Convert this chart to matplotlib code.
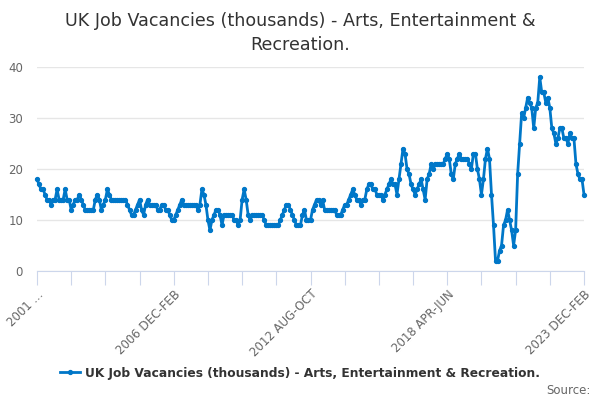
import matplotlib
matplotlib.use("Agg")
import numpy as np
import matplotlib.pyplot as plt

# rolling quarterly values, 2001 APR-JUN .. 2023 DEC-FEB (thousands)
vacancies = [
    18, 17, 16, 16, 15, 14, 14, 13, 14, 14,
    16, 14, 14, 14, 16, 14, 14, 12, 13, 14,
    14, 15, 14, 13, 12, 12, 12, 12, 12, 14,
    15, 14, 12, 13, 14, 16, 15, 14, 14, 14,
    14, 14, 14, 14, 14, 13, 12, 11, 11, 12,
    13, 14, 12, 11, 13, 14, 13, 13, 13, 13,
    12, 12, 13, 13, 12, 12, 11, 10, 10, 11,
    12, 13, 14, 13, 13, 13, 13, 13, 13, 13,
    12, 13, 16, 15, 13, 10, 8, 10, 11, 12,
    12, 11, 9, 11, 11, 11, 11, 11, 10, 10,
    9, 10, 14, 16, 14, 11, 10, 11, 11, 11,
    11, 11, 11, 10, 9, 9, 9, 9, 9, 9,
    9, 10, 11, 12, 13, 13, 12, 11, 10, 9,
    9, 9, 11, 12, 10, 10, 10, 12, 13, 14,
    14, 13, 14, 12, 12, 12, 12, 12, 12, 11,
    11, 11, 12, 13, 13, 14, 15, 16, 15, 14,
    14, 13, 14, 14, 16, 17, 17, 16, 16, 15,
    15, 15, 14, 15, 16, 17, 18, 17, 17, 15,
    18, 21, 24, 23, 20, 19, 17, 16, 15, 16,
    17, 18, 16, 14, 18, 19, 21, 20, 21, 21,
    21, 21, 21, 22, 23, 22, 19, 18, 21, 22,
    23, 22, 22, 22, 22, 21, 20, 23, 23, 20,
    18, 15, 18, 22, 24, 22, 15, 9, 2, 2,
    4, 5, 9, 10, 12, 10, 8, 5, 8, 19,
    25, 31, 30, 32, 34, 33, 32, 28, 32, 33,
    38, 35, 35, 33, 34, 32, 28, 27, 25, 26,
    28, 28, 26, 26, 25, 27, 26, 26, 21, 19,
    18, 18, 15,
]
x_labels = ["2001 …", "2006 DEC-FEB", "2012 AUG-OCT", "2018 APR-JUN", "2023 DEC-FEB"]
y_ticks = [0, 10, 20, 30, 40]
series_name = "UK Job Vacancies (thousands) - Arts, Entertainment & Recreation."

blue = "#0077c8"
fig = plt.figure(figsize=(6, 4), dpi=100)
ax = fig.add_axes([37 / 600, 1 - 271 / 400, 547 / 600, 204 / 400])

x = np.arange(len(vacancies))
ax.plot(x, vacancies, color=blue, lw=2, marker="o", ms=2.8, label=series_name, clip_on=False)

ax.set_xlim(0, len(vacancies) - 1)
ax.set_ylim(0, 40)
ax.set_yticks(y_ticks)
ax.grid(axis="y", color="#e6e6e6", lw=1)
ax.set_axisbelow(True)

tick_pos = list(range(0, len(vacancies), 17))
labels = [""] * len(tick_pos)
for k, lab in enumerate(x_labels):
    labels[k * 4] = lab
ax.set_xticks(tick_pos)
ax.set_xticklabels(labels, rotation=45, ha="right", rotation_mode="anchor")

for s in ["top", "right", "left"]:
    ax.spines[s].set_visible(False)
ax.spines["bottom"].set_color("#ccd6eb")
ax.tick_params(axis="x", length=10, color="#ccd6eb", labelsize=8.5, labelcolor="#666666", pad=2)
ax.tick_params(axis="y", length=0, labelsize=8.5, labelcolor="#666666", pad=10)

fig.text(0.5, 0.97, "UK Job Vacancies (thousands) - Arts, Entertainment &\nRecreation.",
         ha="center", va="top", fontsize=12.6, color="#333333", linespacing=1.4)

fig.legend(loc="center", bbox_to_anchor=(0.5, 1 - 373 / 400), frameon=False,
           prop={"weight": "bold", "size": 8.8}, handlelength=1.6, handletextpad=0.4,
           labelcolor="#333333")
fig.text(0.985, 1 - 390 / 400, "Source:", ha="right", va="center", fontsize=8.5, color="#666666")

fig.savefig("out.png", dpi=100)
